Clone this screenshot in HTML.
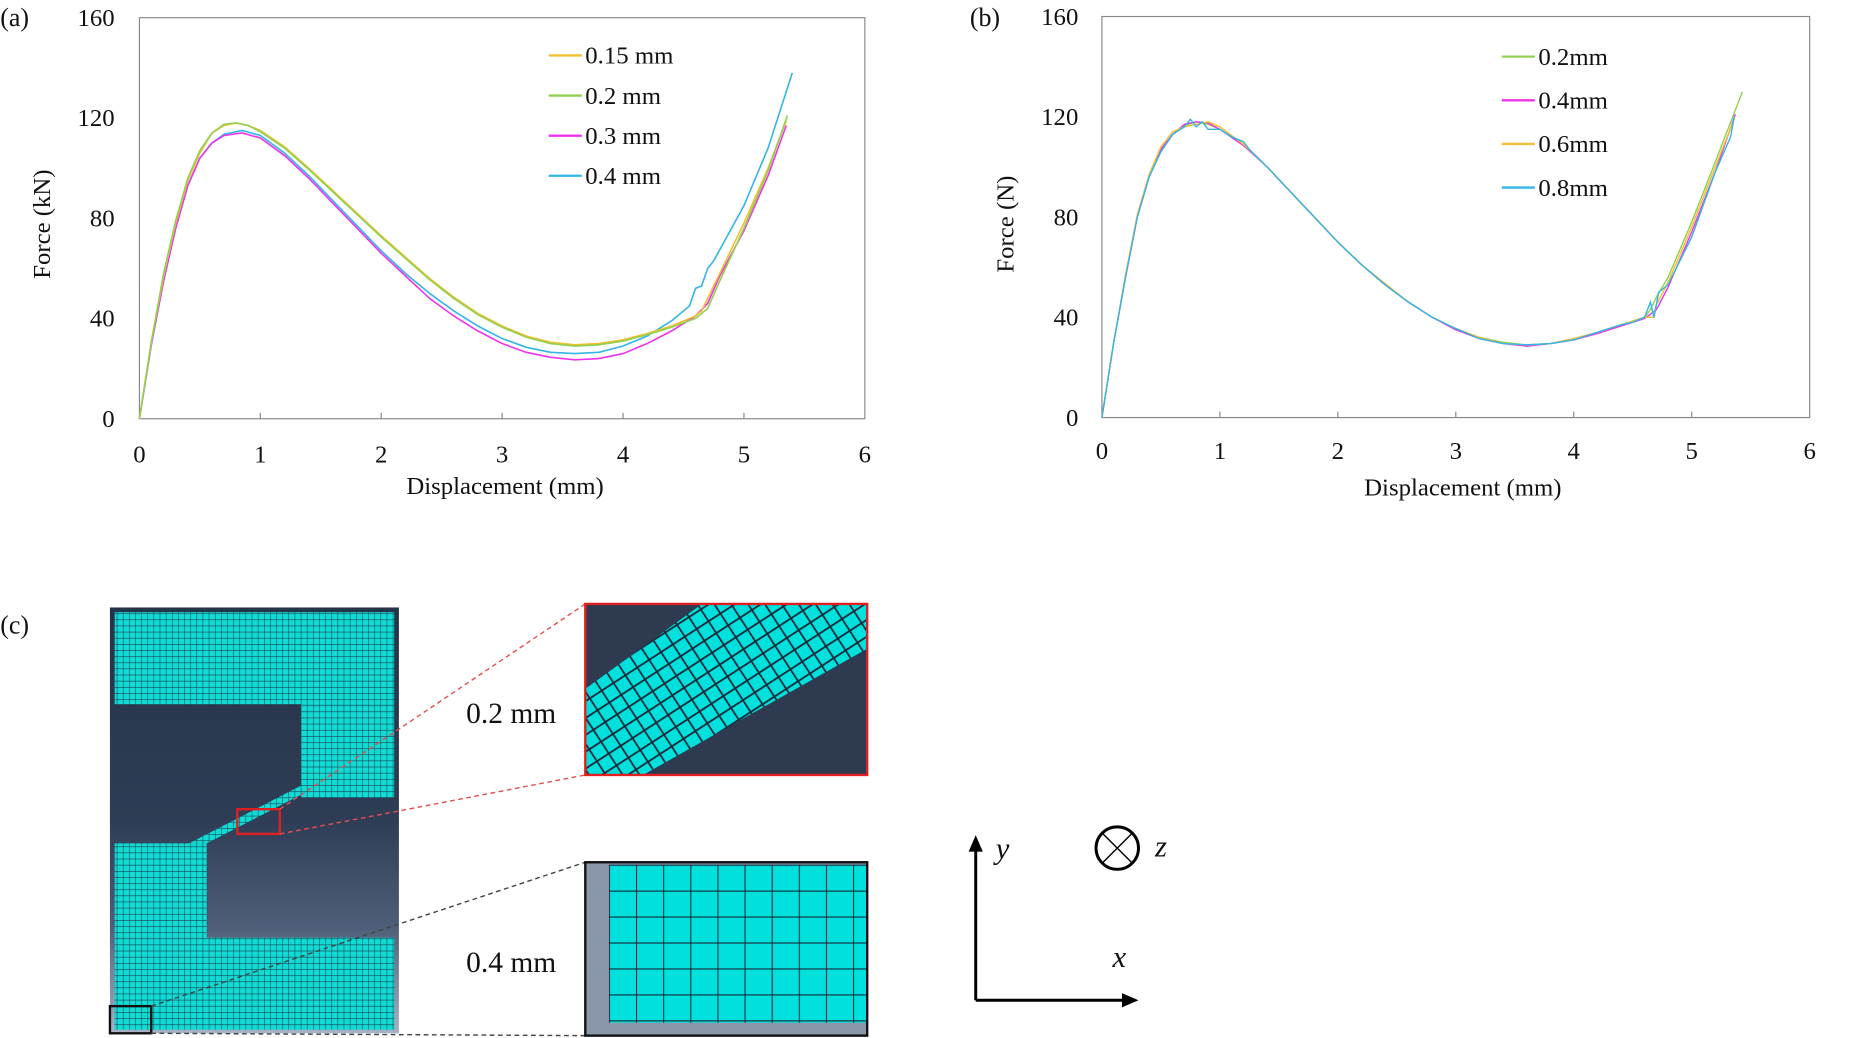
<!DOCTYPE html>
<html><head><meta charset="utf-8"><style>
html,body{margin:0;padding:0;background:#fff;}
svg{display:block;}
text{font-family:"Liberation Serif",serif;fill:#111;}
</style></head><body>
<svg width="1850" height="1038" viewBox="0 0 1568 880" xmlns="http://www.w3.org/2000/svg">
<defs>
<pattern id="mesh" width="5.2" height="5.2" patternUnits="userSpaceOnUse">
<rect width="5.2" height="5.2" fill="#10dcd6"/><path d="M0 0H5.2M0 0V5.2" stroke="#1a3f4c" stroke-width="0.9"/>
</pattern>
<pattern id="mesh2" width="12" height="12" patternUnits="userSpaceOnUse" patternTransform="rotate(-33)">
<rect width="12" height="12" fill="#00e0dc"/><path d="M0 0H12M0 0V12" stroke="#1a2a3a" stroke-width="3"/>
</pattern>
<pattern id="mesh3" width="23" height="22" patternUnits="userSpaceOnUse" x="516" y="733">
<rect width="23" height="22" fill="#00e0dc"/><path d="M0 0H23M0 0V22" stroke="#1a2a3a" stroke-width="1.8"/>
</pattern>
<linearGradient id="bg" x1="0" y1="0" x2="0" y2="1">
<stop offset="0" stop-color="#263449"/><stop offset="0.5" stop-color="#2e3d55"/><stop offset="0.75" stop-color="#4e5e78"/><stop offset="1" stop-color="#a8b2c4"/>
</linearGradient>
</defs>

<!-- Chart A -->
<text x="0" y="22" font-size="22">(a)</text>
<rect x="118" y="15" width="615" height="340" fill="none" stroke="#888" stroke-width="1"/>
<g font-size="21" text-anchor="end">
<text x="97" y="22">160</text><text x="97" y="107">120</text><text x="97" y="192">80</text><text x="97" y="277">40</text><text x="97" y="362">0</text>
</g>
<g font-size="21" text-anchor="middle">
<text x="118" y="392">0</text><text x="220.5" y="392">1</text><text x="323" y="392">2</text><text x="425.5" y="392">3</text><text x="528" y="392">4</text><text x="630.5" y="392">5</text><text x="733" y="392">6</text>
<text x="428" y="419">Displacement  (mm)</text>
</g>
<g stroke="#888" stroke-width="1"><path d="M220.5 355v-5M323 355v-5M425.5 355v-5M528 355v-5M630.5 355v-5"/></g>
<text transform="translate(42,190) rotate(-90)" font-size="21" text-anchor="middle">Force  (kN)</text>
<g transform="translate(118,355) scale(102.5,-2.125)" fill="none" stroke-width="1.6">
<polyline vector-effect="non-scaling-stroke" stroke="#33b5e5" points="0,0 0.1,30 0.2,55 0.3,76 0.4,93 0.5,104 0.6,110 0.7,113.5 0.85,115 1.0,113 1.2,106 1.4,97 1.6,87 1.8,77 2.0,67 2.2,58 2.4,50 2.6,43 2.8,37 3.0,32 3.2,28.5 3.4,26.5 3.6,26 3.8,26.5 4.0,29 4.2,33 4.4,39 4.55,45 4.6,52 4.65,53 4.7,60 4.75,63 5.0,85 5.2,108 5.4,138"/>
<polyline vector-effect="non-scaling-stroke" stroke="#ee33ee" points="0,0 0.1,30 0.2,55 0.3,76 0.4,93 0.5,104 0.6,110 0.7,113 0.85,114 1.0,112 1.2,105 1.4,96 1.6,86 1.8,76 2.0,66 2.2,57 2.4,48 2.6,41 2.8,35 3.0,30 3.2,26.5 3.4,24.5 3.6,23.5 3.8,24 4.0,26 4.2,30 4.4,35 4.6,41 4.7,46 4.8,57 5.0,75 5.2,97 5.35,117"/>
<polyline vector-effect="non-scaling-stroke" stroke="#f0c030" points="0,0 0.1,31 0.2,57 0.3,78 0.4,95 0.5,106 0.6,114 0.7,117 0.8,118 0.9,117 1.0,115 1.2,108.5 1.4,100 1.6,91 1.8,82 2.0,73 2.2,64.5 2.4,56 2.6,48.5 2.8,42 3.0,37 3.2,33 3.4,30.5 3.6,29.5 3.8,30 4.0,31.5 4.2,34 4.4,37 4.6,41 4.65,43 4.7,48 4.8,58 5.0,78 5.2,100 5.35,119"/>
<polyline vector-effect="non-scaling-stroke" stroke="#92d050" points="0,0 0.1,31 0.2,58 0.3,79 0.4,96 0.5,107 0.6,114 0.7,117.5 0.8,118 0.9,117 1.0,114.5 1.2,108 1.4,99.5 1.6,90.5 1.8,81.5 2.0,72.5 2.2,64 2.4,55.5 2.6,48 2.8,41.5 3.0,36.5 3.2,32.5 3.4,30 3.6,29 3.8,29.5 4.0,31 4.2,33.5 4.4,36.5 4.6,40 4.65,42 4.7,44 4.8,55 5.0,76 5.2,99 5.36,121"/>
</g>
<g font-size="21">
<line x1="465" y1="47" x2="493" y2="47" stroke="#f0c030" stroke-width="2"/><text x="496" y="54">0.15 mm</text>
<line x1="465" y1="81" x2="493" y2="81" stroke="#92d050" stroke-width="2"/><text x="496" y="88">0.2 mm</text>
<line x1="465" y1="115" x2="493" y2="115" stroke="#ee33ee" stroke-width="2"/><text x="496" y="122">0.3 mm</text>
<line x1="465" y1="149" x2="493" y2="149" stroke="#33b5e5" stroke-width="2"/><text x="496" y="156">0.4 mm</text>
</g>

<!-- Chart B -->
<text x="822" y="22" font-size="22">(b)</text>
<rect x="934" y="14" width="600" height="340" fill="none" stroke="#888" stroke-width="1"/>
<g font-size="21" text-anchor="end">
<text x="914" y="21">160</text><text x="914" y="106">120</text><text x="914" y="191">80</text><text x="914" y="276">40</text><text x="914" y="361">0</text>
</g>
<g font-size="21" text-anchor="middle">
<text x="934" y="389">0</text><text x="1034" y="389">1</text><text x="1134" y="389">2</text><text x="1234" y="389">3</text><text x="1334" y="389">4</text><text x="1434" y="389">5</text><text x="1534" y="389">6</text>
<text x="1240" y="420">Displacement  (mm)</text>
</g>
<g stroke="#888" stroke-width="1"><path d="M1034 354v-5M1134 354v-5M1234 354v-5M1334 354v-5M1434 354v-5"/></g>
<text transform="translate(859,190) rotate(-90)" font-size="21" text-anchor="middle">Force  (N)</text>
<g transform="translate(934,354) scale(100,-2.125)" fill="none" stroke-width="1.4">
<polyline vector-effect="non-scaling-stroke" stroke="#92d050" points="0,0 0.1,30 0.2,56 0.3,80 0.4,96 0.5,107 0.6,113 0.7,116.5 0.8,118 0.9,117 1.0,115 1.2,109 1.4,100 1.6,90 1.8,80 2.0,70 2.2,61 2.4,53 2.6,46 2.8,40 3.0,35.5 3.2,32 3.4,30 3.6,29 3.8,29.5 4.0,31 4.2,34 4.4,37 4.6,40 4.65,43 4.7,48 4.8,56 5.0,78 5.2,102 5.43,130"/>
<polyline vector-effect="non-scaling-stroke" stroke="#ee33ee" points="0,0 0.1,30 0.2,56 0.3,80 0.4,96 0.5,107 0.6,113 0.7,117 0.8,118 0.9,117.5 1.0,115 1.2,108.5 1.4,100 1.6,90 1.8,80 2.0,70 2.2,61 2.4,53 2.6,46 2.8,40 3.0,35 3.2,31.5 3.4,29.5 3.6,28.5 3.8,29.5 4.0,31 4.2,33.5 4.4,36.5 4.6,39.5 4.7,43 4.8,52 5.0,74 5.2,98 5.37,121"/>
<polyline vector-effect="non-scaling-stroke" stroke="#f0c030" points="0,0 0.1,30 0.2,57 0.3,81 0.4,97 0.5,108 0.6,114 0.7,116 0.8,117 0.9,118 1.0,116 1.2,109 1.4,100 1.6,90 1.8,80 2.0,70 2.2,61 2.4,53.5 2.6,46 2.8,40 3.0,35.5 3.2,32 3.4,29.5 3.6,29 3.8,29.5 4.0,31.5 4.2,34 4.4,37 4.6,40 4.68,40 4.7,45 4.8,54 5.0,76 5.2,100 5.36,119"/>
<polyline vector-effect="non-scaling-stroke" stroke="#33b5e5" points="0,0 0.1,30 0.2,56 0.3,80 0.4,96 0.5,106 0.6,113 0.7,116 0.75,119 0.8,116 0.85,118 0.9,115 1.0,115 1.1,112 1.2,110 1.25,107 1.4,100 1.6,90 1.8,80 2.0,70 2.2,61 2.4,53 2.6,46 2.8,40 3.0,35.5 3.2,31.5 3.4,29.5 3.6,29 3.8,29.5 4.0,31 4.2,34 4.4,37 4.5,38 4.6,40 4.65,46 4.68,40 4.72,50 4.8,53 5.0,72 5.2,98 5.33,112 5.36,120"/>
</g>
<g font-size="21">
<line x1="1273" y1="48" x2="1301" y2="48" stroke="#92d050" stroke-width="2"/><text x="1304" y="55">0.2mm</text>
<line x1="1273" y1="85" x2="1301" y2="85" stroke="#ee33ee" stroke-width="2"/><text x="1304" y="92">0.4mm</text>
<line x1="1273" y1="122" x2="1301" y2="122" stroke="#f0c030" stroke-width="2"/><text x="1304" y="129">0.6mm</text>
<line x1="1273" y1="159" x2="1301" y2="159" stroke="#33b5e5" stroke-width="2"/><text x="1304" y="166">0.8mm</text>
</g>

<!-- Panel C -->
<text x="0" y="537" font-size="22">(c)</text>
<rect x="93" y="515" width="245" height="361" fill="url(#bg)"/>
<rect x="97" y="519" width="237" height="78" fill="url(#mesh)"/>
<rect x="255" y="597" width="79" height="79" fill="url(#mesh)"/>
<rect x="97" y="715" width="78" height="80" fill="url(#mesh)"/>
<rect x="97" y="795" width="237" height="78" fill="url(#mesh)"/>
<polygon points="160,715 175,715 270,666 255,666" fill="url(#mesh)"/>
<rect x="201" y="686" width="36" height="21" fill="none" stroke="#e02020" stroke-width="2"/>
<rect x="93" y="853" width="35" height="23" fill="none" stroke="#111" stroke-width="2"/>
<g stroke-dasharray="4,3" stroke-width="1.2" fill="none">
<path d="M237 686L496 512M237 707L496 657" stroke="#e05050"/>
<path d="M128 853L496 731M128 876L496 878" stroke="#444"/>
</g>
<!-- top inset -->
<rect x="496" y="512" width="239" height="145" fill="#2d3a50"/>
<polygon points="496,584 595,512 735,512 735,550 545,657 496,657" fill="url(#mesh2)"/>
<rect x="496" y="512" width="239" height="145" fill="none" stroke="#e02020" stroke-width="2"/>
<!-- bottom inset -->
<rect x="496" y="731" width="239" height="147" fill="#8a96aa"/>
<rect x="516" y="733" width="219" height="134" fill="url(#mesh3)"/>
<rect x="496" y="731" width="239" height="147" fill="none" stroke="#111" stroke-width="2"/>
<text x="395" y="613" font-size="25">0.2 mm</text>
<text x="395" y="824" font-size="25">0.4 mm</text>

<!-- axes triad -->
<g stroke="#000" stroke-width="2.5" fill="none">
<path d="M827 848V718M827 848H955"/>
<circle cx="947" cy="719" r="18"/>
<path d="M935 707L959 731M959 707L935 731" stroke-width="1.2"/>
</g>
<polygon points="827,708 821,722 833,722" fill="#000"/>
<polygon points="965,848 951,842 951,854" fill="#000"/>
<g font-size="26" font-style="italic">
<text x="844" y="728">y</text><text x="979" y="726">z</text><text x="943" y="820">x</text>
</g>
</svg>
</body></html>
